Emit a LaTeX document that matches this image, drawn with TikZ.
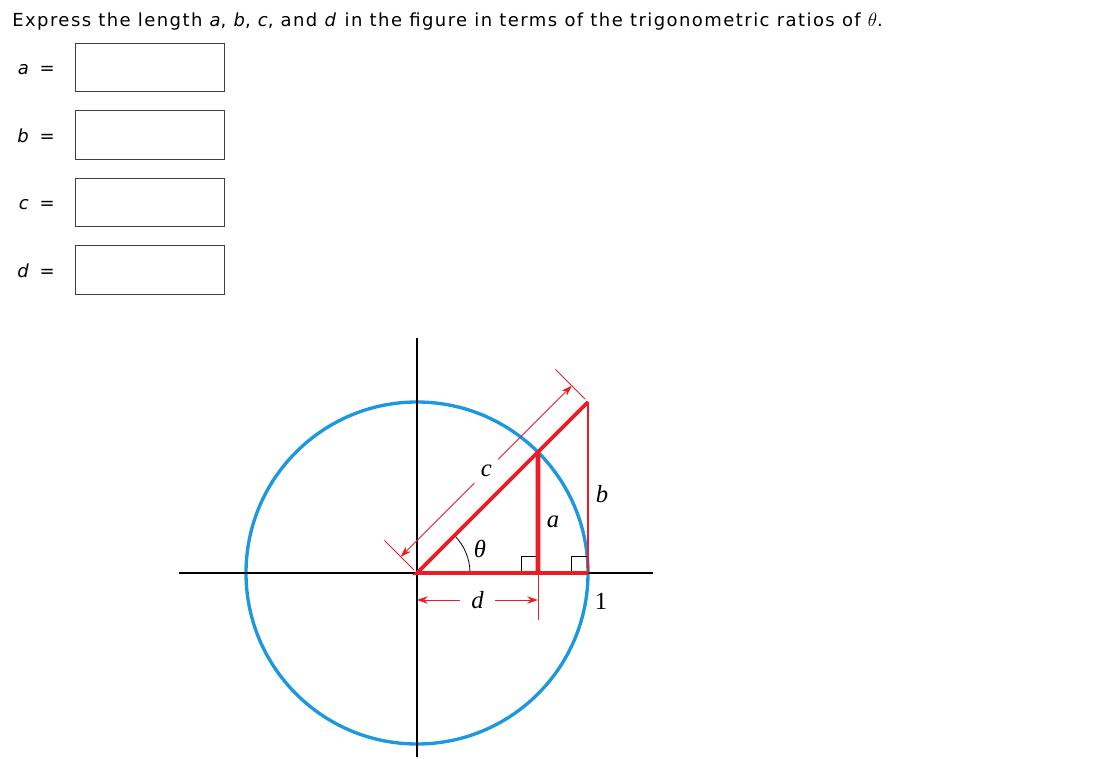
\documentclass[tikz,border=0pt]{standalone}
\usepackage{fontspec}
\setmainfont{DejaVu Sans}
\newfontfamily\qfont[LetterSpace=8]{DejaVu Sans}
\newfontfamily\figfont{Liberation Serif}
\usetikzlibrary{arrows.meta,positioning}
\definecolor{unitblue}{RGB}{27,152,224}
\definecolor{trigred}{RGB}{237,28,36}
\tikzset{
  ansbox/.style={draw=black!75,line width=0.8pt,minimum width=112pt,minimum height=36.5pt,inner sep=0pt},
  anslabel/.style={font=\qfont\fontsize{13.5}{16}\selectfont,inner sep=0pt,anchor=base east},
  figlabel/.style={font=\figfont\itshape\fontsize{18.5}{21}\selectfont,inner sep=1pt},
  dimline/.style={trigred,line width=0.6pt,-{Stealth[length=8pt,width=5.5pt]}},
}
\begin{document}
\begin{tikzpicture}[x=0.75pt,y=0.75pt]
\useasboundingbox (0,0) rectangle (1111,758);
\node[anchor=base west,font=\qfont\fontsize{13.5}{16}\selectfont,inner sep=0pt] (question) at (12,731) {Express the length \textit{a}, \textit{b}, \textit{c}, and \textit{d} in the figure in terms of the trigonometric ratios of $\theta$.};
\node[ansbox] (boxa) at (150,690.5) {};
\node[ansbox] (boxb) at (150,623) {};
\node[ansbox] (boxc) at (150,555.5) {};
\node[ansbox] (boxd) at (150,488) {};
\node[anslabel] (lbla) at (55,683) {\textit{a}\hspace{7pt}=};
\node[anslabel] (lblb) at (55,615.5) {\textit{b}\hspace{7pt}=};
\node[anslabel] (lblc) at (55,548) {\textit{c}\hspace{7pt}=};
\node[anslabel] (lbld) at (55,480.5) {\textit{d}\hspace{7pt}=};
% unit circle and axes
\coordinate (O) at (417,185);
\draw[unitblue,line width=2.5pt] (O) circle (171);
\draw[line width=0.8pt] (179,185) -- (653,185);
\draw[line width=0.8pt] (417,420) -- (417,1);
\path (O) ++(45:171) coordinate (P) (O) ++(171,171) coordinate (T)
  (O) ++(120.9,0) coordinate (A) (O) ++(171,0) coordinate (B);
\draw[line width=0.6pt] (A) ++(-17,0) -- ++(0,17) -- ++(17,0);
\draw[line width=0.6pt] (B) ++(-17,0) -- ++(0,17) -- ++(17,0);
\draw[line width=0.6pt] (O) ++(53,0) arc (0:45:53);
\draw[trigred,line width=1.8pt] (T) -- (B);
\draw[trigred,line width=2.8pt,line join=miter] (B) -- (O) -- (T);
\draw[trigred,line width=3.6pt] (P) -- (A);
% dimension c
\path (O) ++(135:23) coordinate (c0) (T) ++(135:23) coordinate (c1);
\path (c0) -- (c1) node[midway,figlabel,circle,minimum size=25pt] (labc) {c};
\draw[dimline] (labc) -- (c0);
\draw[dimline] (labc) -- (c1);
\draw[trigred,line width=0.6pt] (O) ++(135:4) -- ++(135:42);
\draw[trigred,line width=0.6pt] (T) ++(135:4) -- ++(135:42);
% dimension d
\coordinate (d0) at (417,158);
\coordinate (d1) at (537.9,158);
\path (d0) -- (d1) node[midway,figlabel,minimum width=26pt] (labd) {d};
\draw[dimline] (labd) -- (d0);
\draw[dimline] (labd) -- (d1);
\draw[trigred,line width=0.6pt] (A) -- ++(0,-47);
\node[figlabel] (sidea) at (553,236) {a};
\node[figlabel] (sideb) at (602,264) {b};
\node[figlabel] (theta) at (480,209) {θ};
\node[figlabel,font=\figfont\fontsize{18.5}{21}\selectfont] (one) at (601,157) {1};
\end{tikzpicture}
\end{document}
